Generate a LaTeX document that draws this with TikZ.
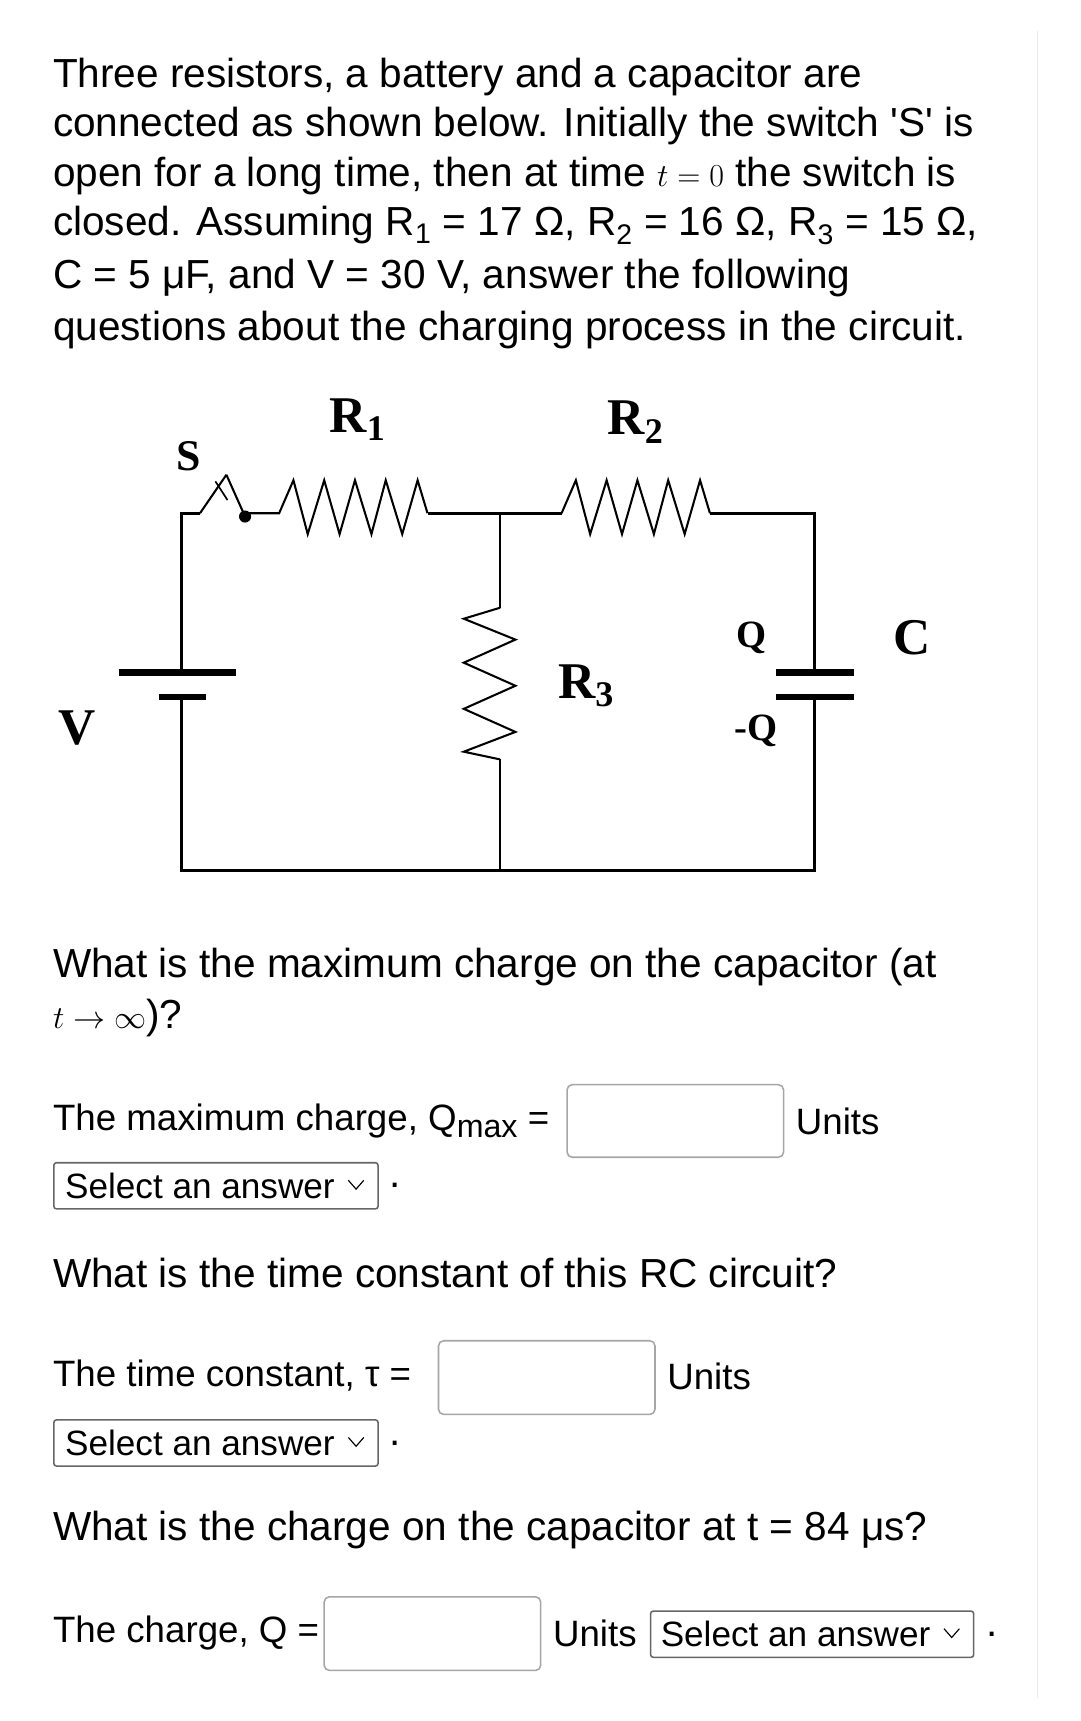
\documentclass[tikz,border=0pt]{standalone}
\usepackage{fontspec}
\setmainfont{Liberation Sans}
\newfontfamily\circfont{Liberation Serif}
\begin{document}
\begin{tikzpicture}[x=0.03cm,y=-0.03cm,
  txt/.style={anchor=west,inner sep=0pt,font=\fontsize{31.5}{36}\selectfont},
  ans/.style={anchor=west,inner sep=0pt,font=\fontsize{28.5}{34}\selectfont},
  small/.style={anchor=west,inner sep=0pt,font=\fontsize{27.3}{30}\selectfont},
  lab/.style={inner sep=0pt,font=\circfont\bfseries\fontsize{40}{44}\selectfont},
  wire/.style={line width=2.2pt,line join=miter},
  zig/.style={line width=1.6pt},
  inbox/.style={draw=black!35,line width=1.2pt,rounded corners=4pt},
  selbox/.style={draw=black!60,line width=1.2pt,rounded corners=2pt}]
\useasboundingbox (0,0) rectangle (983,1566);
\fill[white] (0,0) rectangle (983,1566);
\draw[black!8,line width=1pt] (944,28) -- (944,1545);
% header
\node[txt] (h1) at (48,70) {Three resistors, a battery and a capacitor are};
\node[txt] (h2) at (48,115) {connected as shown below. Initially the switch \textquotesingle S\textquotesingle\ is};
\node[txt] (h3) at (48,160) {open for a long time, then at time $t=0$ the switch is};
\node[txt] (h4) at (48,205) {closed. Assuming R\textsubscript{1} = 17 Ω, R\textsubscript{2} = 16 Ω, R\textsubscript{3} = 15 Ω,};
\node[txt] (h5) at (48,253) {C = 5 μF, and V = 30 V, answer the following};
\node[txt] (h6) at (48,300) {questions about the charging process in the circuit.};
% circuit
\coordinate (tl) at (165,467); \coordinate (tm) at (455,467); \coordinate (tr) at (741,467);
\coordinate (bl) at (165,792); \coordinate (bm) at (455,792); \coordinate (br) at (741,792);
\draw[wire] (165,612) -- (tl) -- (182,467);
\draw[line width=1.6pt] (182,467) -- (206,432);
\draw[line width=1.3pt] (196,438) -- (207,455);
\fill (223,470) circle (5.5);
\draw[zig] (206,432) -- (223,470);
\draw[zig] (223,467) -- (254,467) -- (267,437) -- (280,486) -- (295,437) -- (309,486) -- (323,437) -- (338,486) -- (351,437) -- (366,486) -- (380,437) -- (389,467);
\draw[wire] (389,467) -- (tm) -- (511,467);
\draw[zig] (511,467) -- (524,437) -- (537,486) -- (552,437) -- (566,486) -- (580,437) -- (595,486) -- (608,437) -- (623,486) -- (637,437) -- (646,467);
\draw[wire] (646,467) -- (tr) -- (741,612);
\draw[wire] (tm) -- (455,553);
\draw[zig] (455,553) -- (422,563) -- (469,582) -- (422,603) -- (469,624) -- (422,645) -- (469,666) -- (422,684) -- (455,691);
\draw[wire] (455,691) -- (bm);
\draw[wire] (165,634) -- (bl) -- (br) -- (741,634);
\draw[line width=5pt] (108,612) -- (215,612);
\draw[line width=5pt] (145,634) -- (187,634);
\draw[line width=5pt] (706,612) -- (777,612);
\draw[line width=5pt] (706,634) -- (777,634);
\node[lab] (lr1) at (325,382) {R\raisebox{-0.35ex}{\fontsize{28}{30}\selectfont 1}};
\node[lab] (lr2) at (578,384) {R\raisebox{-0.35ex}{\fontsize{28}{30}\selectfont 2}};
\node[lab,font=\circfont\bfseries\fontsize{34}{36}\selectfont] (ls) at (172,415) {S};
\node[lab] (lv) at (70,662) {V};
\node[lab] (lr3) at (533,624) {R\raisebox{-0.35ex}{\fontsize{28}{30}\selectfont 3}};
\node[lab,font=\circfont\bfseries\fontsize{30}{32}\selectfont] (lq) at (684,580) {Q};
\node[lab,font=\circfont\bfseries\fontsize{30}{32}\selectfont] (lmq) at (688,665) {-Q};
\node[lab] (lc) at (830,580) {C};
% questions
\node[txt] (q1) at (48,880) {What is the maximum charge on the capacitor (at};
\node[txt] (q1b) at (48,926) {$t\to\infty$)?};
\node[ans] (a1) at (48,1020) {The maximum charge, Q\raisebox{-0.4ex}{\fontsize{25}{28}\selectfont max} =};
\draw[inbox] (516,987) rectangle (713,1053);
\node[ans] (u1) at (724,1020) {Units};
\draw[selbox] (49,1058) rectangle (344,1100);
\node[small] (s1) at (59,1079) {Select an answer};
\draw[line width=0.9pt] (317,1074) -- (324,1082) -- (331,1074);
\node[txt] (d1) at (354,1079) {.};
\node[txt] (q2) at (48,1158) {What is the time constant of this RC circuit?};
\node[ans] (a2) at (48,1252) {The time constant, τ =};
\draw[inbox] (399,1220) rectangle (596,1287);
\node[ans] (u2) at (607,1252) {Units};
\draw[selbox] (49,1292) rectangle (344,1334);
\node[small] (s2) at (59,1313) {Select an answer};
\draw[line width=0.9pt] (317,1308) -- (324,1316) -- (331,1308);
\node[txt] (d2) at (354,1313) {.};
\node[txt] (q3) at (48,1392) {What is the charge on the capacitor at t = 84 μs?};
\node[ans] (a3) at (48,1486) {The charge, Q =};
\draw[inbox] (295,1453) rectangle (492,1520);
\node[ans] (u3) at (503,1486) {Units};
\draw[selbox] (592,1466) rectangle (886,1508);
\node[small] (s3) at (601,1487) {Select an answer};
\draw[line width=0.9pt] (859,1482) -- (866,1490) -- (873,1482);
\node[txt] (d3) at (897,1487) {.};
\end{tikzpicture}
\end{document}
